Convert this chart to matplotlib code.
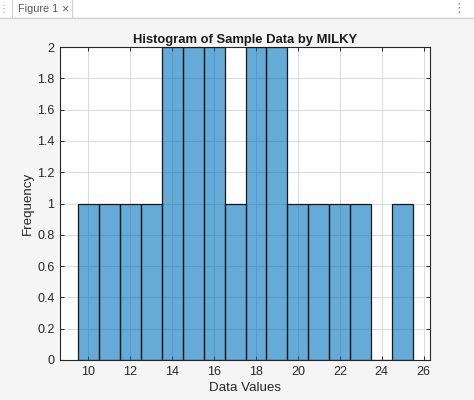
import numpy as np
import matplotlib
matplotlib.use('Agg')
import matplotlib.pyplot as plt
from matplotlib.patches import Rectangle
from matplotlib.lines import Line2D

plt.rcParams['font.family'] = ['Liberation Sans', 'DejaVu Sans']

# sample values (one per unit of count)
sample_data = [10, 11, 12, 13, 14, 14, 15, 15, 16, 16, 17,
               18, 18, 19, 19, 20, 21, 22, 23, 25]
bin_edges = np.arange(9.5, 26.5, 1.0)
x_ticks = [10, 12, 14, 16, 18, 20, 22, 24, 26]
y_ticks = [0, 0.2, 0.4, 0.6, 0.8, 1, 1.2, 1.4, 1.6, 1.8, 2]
y_labels = ['0', '0.2', '0.4', '0.6', '0.8', '1', '1.2', '1.4', '1.6', '1.8', '2']

fig = plt.figure(figsize=(4.74, 4.0), dpi=100)
fig.patch.set_facecolor('#f5f5f5')

# window tab strip
fig.patches.append(Rectangle((0, 1 - 17/400), 1, 17/400, transform=fig.transFigure,
                             facecolor='white', edgecolor='none', zorder=0))
fig.lines.append(Line2D([0, 1], [1 - 17.5/400, 1 - 17.5/400], transform=fig.transFigure,
                        color='#d0d0d0', lw=0.8))
fig.lines.append(Line2D([12/474, 12/474], [1 - 17/400, 1], transform=fig.transFigure,
                        color='#d0d0d0', lw=0.8))
fig.lines.append(Line2D([72/474, 72/474], [1 - 17/400, 1], transform=fig.transFigure,
                        color='#d0d0d0', lw=0.8))
fig.text(18/474, 1 - 9/400, 'Figure 1', fontsize=7.8, color='#555555', va='center', ha='left')
fig.text(61/474, 1 - 9/400, '×', fontsize=9, color='#666666', va='center', ha='left')
fig.text(4/474, 1 - 9/400, '⋮', fontsize=7, color='#aaaaaa', va='center', ha='center')
fig.text(459/474, 1 - 9/400, '⋮', fontsize=9, color='#888888', va='center', ha='center')

ax = fig.add_axes([60/474, 40/400, 370/474, 313/400])
ax.set_facecolor('white')
ax.hist(sample_data, bins=bin_edges, color='#0072bd', alpha=0.6,
        edgecolor='none', zorder=2)
ax.hist(sample_data, bins=bin_edges, histtype='bar', facecolor='none',
        edgecolor='#1a1a1a', linewidth=0.9, zorder=3)

ax.set_xlim(8.65, 26.3)
ax.set_ylim(0, 2)
ax.set_xticks(x_ticks)
ax.set_yticks(y_ticks)
ax.set_yticklabels(y_labels)
ax.grid(True, color='#dcdcdc', linewidth=0.8, zorder=1)
ax.set_axisbelow(True)
ax.tick_params(direction='in', length=3, width=0.7, top=True, right=True,
               labelsize=9, colors='#262626', pad=4)
for side in ax.spines.values():
    side.set_color('#262626')
    side.set_linewidth(0.8)

ax.set_title('Histogram of Sample Data by MILKY', fontsize=9.4, fontweight='bold',
             color='#1a1a1a', pad=3)
ax.set_xlabel('Data Values', fontsize=9.6, color='#262626', labelpad=3)
ax.set_ylabel('Frequency', fontsize=9.6, color='#262626', labelpad=2)

fig.savefig('out.png', dpi=100, facecolor=fig.get_facecolor())
